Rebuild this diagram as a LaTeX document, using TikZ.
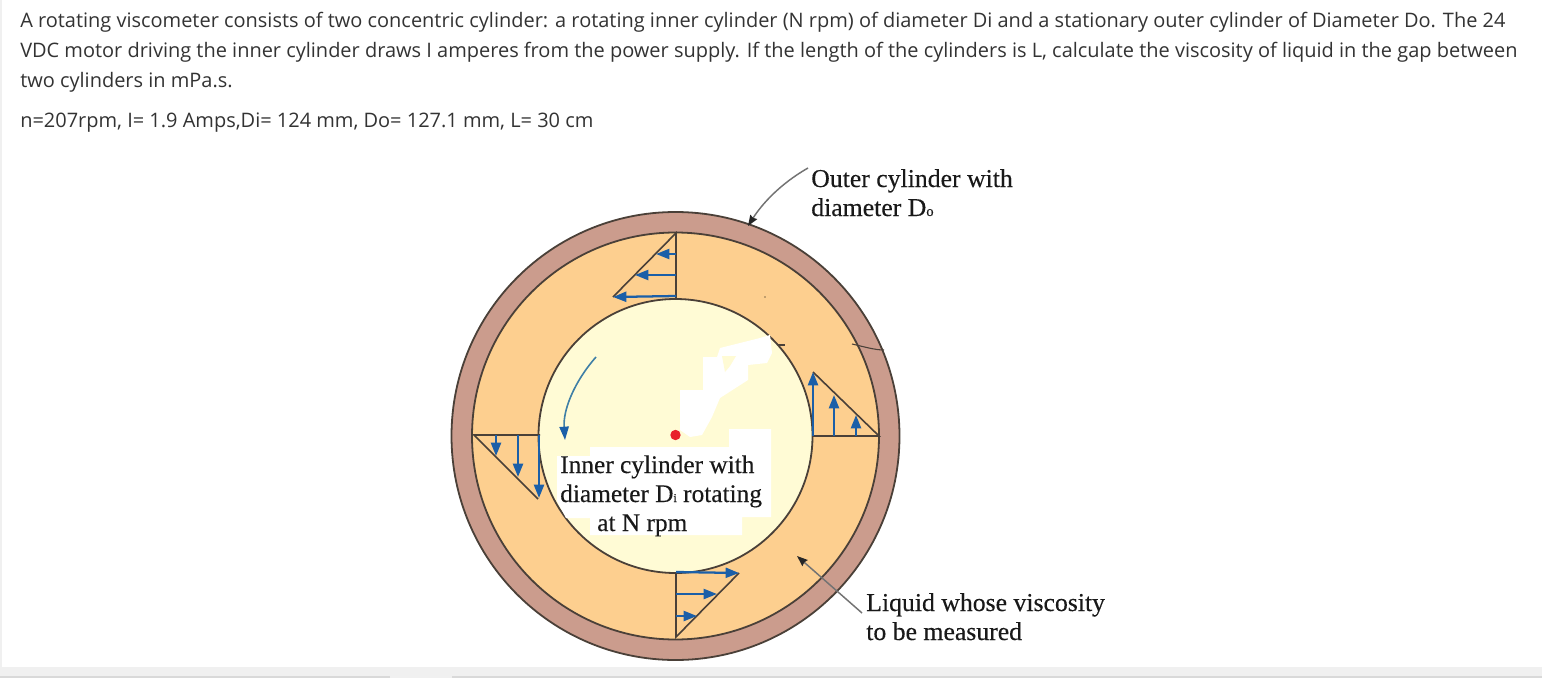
\documentclass[tikz,border=0pt]{standalone}
\usepackage{fontspec}
\setmainfont[RawFeature={embolden=0.25}]{Liberation Serif}
\newfontfamily\webfont{Open Sans}
\usetikzlibrary{arrows.meta}
\definecolor{wallc}{HTML}{CB9C8D}
\definecolor{liquidc}{HTML}{FDCF8F}
\definecolor{innerc}{HTML}{FFFBD5}
\definecolor{edgec}{HTML}{4A4038}
\definecolor{flowc}{HTML}{1B5FA8}
\definecolor{rotc}{HTML}{3F7FA6}
\definecolor{redc}{HTML}{E8212B}
\definecolor{stripc}{HTML}{F0F0F0}
\definecolor{stripd}{HTML}{D9D9D9}
\tikzset{
  x=0.75pt,y=-0.75pt,
  ring/.style={draw=edgec,line width=1.35pt},
  prof/.style={draw=edgec,line width=1.2pt,line join=miter},
  flow/.style={draw=flowc,line width=1.7pt,-{Triangle[length=10pt,width=7.5pt]}},
  callout/.style={draw=black!55,line width=1.1pt,-{Stealth[inset=0.8pt,length=8pt,width=6pt,color=black!85]}},
  para/.style={font=\webfont\fontsize{14.98}{21}\selectfont,text=black!80,anchor=base west,inner sep=0pt},
  lab/.style={font=\fontsize{19.3}{22}\selectfont,text=black!90,anchor=base west,inner sep=0pt},
  labin/.style={lab,font=\fontsize{19}{22}\selectfont},
}
\begin{document}
\begin{tikzpicture}
\useasboundingbox (0,0) rectangle (1542,678);
\fill[white] (0,0) rectangle (1542,678);
\fill[stripc] (0,667) rectangle (1542,678);
\fill[stripc] (0,0) rectangle (2,667);
\fill[stripd] (0,676) rectangle (390,678);
\fill[stripd] (452,676) rectangle (1542,678);
% text block
\node[para] (p1) at (20,27) {A rotating viscometer consists of two concentric cylinder: a rotating inner cylinder (N rpm) of diameter Di and a stationary outer cylinder of Diameter Do. The 24};
\node[para] (p2) at (20,57) {VDC motor driving the inner cylinder draws I amperes from the power supply. If the length of the cylinders is L, calculate the viscosity of liquid in the gap between};
\node[para] (p3) at (20,87) {two cylinders in mPa.s.};
\node[para] (p4) at (20,127) {n=207rpm, I= 1.9 Amps,Di= 124 mm, Do= 127.1 mm, L= 30 cm};
% cylinders
\coordinate (c) at (675.5,436);
\path[ring,fill=wallc] (c) circle[radius=224];
\path[ring,fill=liquidc] (c) circle[radius=203.5];
\path[ring,fill=innerc] (c) circle[radius=137];
% erased patches
\fill[white] (590,447) -- (729,447) -- (729,429) -- (771,429) -- (771,517) -- (742,517) -- (742,535) -- (590,535) -- (590,518) -- (566,518) -- (557,501) -- (557,456) -- (590,456) -- cycle;
\fill[white] (680,390) -- (703,390) -- (703,357) -- (717,357) -- (720,348) -- (760,338) -- (770,335) -- (772,353) -- (767,363) -- (748,365) -- (748,380) -- (720,398) -- (712,417) -- (702,435) -- (690,437) -- (680,430) -- cycle;
\fill[innerc] (722,356) -- (736,356) -- (730,366) -- (725,372) -- cycle;
\fill[redc] (675.5,435) circle[radius=5.2];
% rotation arrow
\coordinate (rotS) at (596,357);
\coordinate (rotE) at (565,440);
\draw[flow,draw=rotc,line width=1.2pt,-{Triangle[length=10pt,width=7pt,color=flowc]}] (rotS) .. controls (574,382) and (563,410) .. (rotE);
% top profile
\coordinate (tA) at (676,233);
\coordinate (tB) at (676,298);
\coordinate (tC) at (613,297);
\draw[prof] (tC) -- (tA) -- (tB);
\coordinate (tE1) at (676,254); \coordinate (tF1) at (656,254);
\coordinate (tE2) at (676,275); \coordinate (tF2) at (635,275);
\coordinate (tE3) at (676,296); \coordinate (tF3) at (613,297);
\draw[flow] (tE1) -- (tF1);
\draw[flow] (tE2) -- (tF2);
\draw[flow] (tE3) -- (tF3);
% right profile
\coordinate (rA) at (879,436);
\coordinate (rB) at (812,436);
\coordinate (rC) at (813,372);
\draw[prof] (rB) -- (rA) -- (rC);
\coordinate (rE1) at (856,436); \coordinate (rF1) at (856,415);
\coordinate (rE2) at (834,436); \coordinate (rF2) at (834,395);
\coordinate (rE3) at (813,436); \coordinate (rF3) at (813,372);
\draw[flow] (rE1) -- (rF1);
\draw[flow] (rE2) -- (rF2);
\draw[flow] (rE3) -- (rF3);
% left profile
\coordinate (lA) at (474,435);
\coordinate (lB) at (540,435);
\coordinate (lC) at (538,499);
\draw[prof] (lB) -- (lA) -- (lC);
\coordinate (lE1) at (496,435); \coordinate (lF1) at (496,456);
\coordinate (lE2) at (518,435); \coordinate (lF2) at (518,477);
\coordinate (lE3) at (539,435); \coordinate (lF3) at (539,498);
\draw[flow] (lE1) -- (lF1);
\draw[flow] (lE2) -- (lF2);
\draw[flow] (lE3) -- (lF3);
% bottom profile
\coordinate (bA) at (676,637);
\coordinate (bB) at (676,572);
\coordinate (bC) at (739,573);
\draw[prof] (bC) -- (bA) -- (bB);
\coordinate (bE1) at (676,616); \coordinate (bF1) at (697,616);
\coordinate (bE2) at (676,594); \coordinate (bF2) at (717,594);
\coordinate (bE3) at (676,572); \coordinate (bF3) at (739,573);
\draw[flow] (bE1) -- (bF1);
\draw[flow] (bE2) -- (bF2);
\draw[flow] (bE3) -- (bF3);
% stray ticks
\draw[edgec,line width=0.8pt] (778,345) -- (785,345);
\draw[edgec,line width=0.8pt] (852,344) .. controls (865,347) and (875,350) .. (884,350);
\fill[black] (765,297) circle[radius=0.7];
% labels
\node[lab] (outer1) at (811,187) {Outer cylinder with};
\node[lab] (outer2) at (811,216) {diameter D\raisebox{0pt}{\fontsize{11}{11}\selectfont o}};
\coordinate (outerS) at (808,168);
\coordinate (outerE) at (748,226);
\draw[callout] (outerS) .. controls (780,184) and (762,204) .. (outerE);
\node[labin] (inner1) at (560,473) {Inner cylinder with};
\node[labin] (inner2) at (560,502) {diameter D\raisebox{0pt}{\fontsize{9}{9}\selectfont i} rotating};
\node[labin] (inner3) at (597,531) {at N rpm};
\node[lab] (liq1) at (866,611) {Liquid whose viscosity};
\node[lab] (liq2) at (866,640) {to be measured};
\coordinate (liqS) at (862,613);
\coordinate (liqE) at (797,556);
\draw[callout] (liqS) -- (liqE);
\end{tikzpicture}
\end{document}
